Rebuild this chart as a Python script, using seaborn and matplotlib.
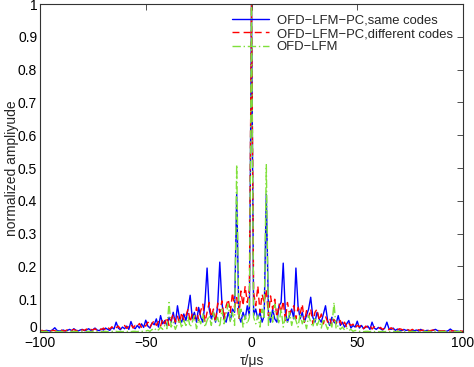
import numpy as np
import pandas as pd
import matplotlib
matplotlib.use("Agg")
import matplotlib.pyplot as plt
import matplotlib.transforms as mtransforms
import seaborn as sns

# delay axis (microseconds), 1 us step
tau = list(range(-100, 101))

same_codes = [
    0.002,0.004,0.003,0.005,0.004,0.003,0.007,0.013,0.005,0.003,
    0.004,0.006,0.003,0.005,0.008,0.004,0.010,0.005,0.003,0.006,
    0.008,0.004,0.006,0.010,0.005,0.007,0.012,0.006,0.004,0.009,
    0.006,0.012,0.008,0.005,0.014,0.009,0.030,0.012,0.007,0.015,
    0.010,0.018,0.008,0.032,0.015,0.010,0.020,0.012,0.025,0.014,
    0.036,0.018,0.012,0.028,0.022,0.040,0.015,0.050,0.025,0.035,
    0.020,0.045,0.030,0.060,0.025,0.080,0.040,0.030,0.055,0.035,
    0.070,0.112,0.040,0.060,0.030,0.075,0.045,0.030,0.090,0.195,
    0.070,0.040,0.060,0.030,0.080,0.213,0.090,0.040,0.030,0.060,
    0.035,0.070,0.060,0.420,0.050,0.030,0.060,0.040,0.080,0.050,
    1.000,
    0.050,0.070,0.040,0.060,0.030,0.050,0.420,0.060,0.030,0.070,
    0.040,0.030,0.080,0.090,0.210,0.060,0.030,0.050,0.070,0.040,
    0.195,0.080,0.040,0.060,0.030,0.050,0.070,0.106,0.045,0.030,
    0.060,0.040,0.030,0.055,0.080,0.035,0.020,0.045,0.030,0.025,
    0.050,0.020,0.030,0.015,0.025,0.035,0.012,0.020,0.015,0.033,
    0.012,0.020,0.010,0.015,0.018,0.008,0.030,0.012,0.008,0.014,
    0.010,0.006,0.012,0.030,0.010,0.008,0.012,0.005,0.009,0.006,
    0.004,0.008,0.005,0.006,0.003,0.005,0.004,0.006,0.003,0.008,
    0.004,0.003,0.005,0.004,0.003,0.006,0.008,0.004,0.003,0.002,
    0.003,0.002,0.004,0.009,0.004,0.002,0.003,0.002,0.001,0.002,
]

different_codes = [
    0.003,0.005,0.002,0.004,0.006,0.003,0.005,0.004,0.002,0.005,
    0.006,0.003,0.004,0.007,0.003,0.005,0.008,0.004,0.006,0.003,
    0.007,0.005,0.009,0.004,0.008,0.006,0.010,0.005,0.011,0.007,
    0.012,0.006,0.014,0.009,0.016,0.008,0.013,0.018,0.010,0.015,
    0.020,0.011,0.018,0.024,0.012,0.020,0.016,0.026,0.014,0.022,
    0.018,0.030,0.015,0.026,0.035,0.020,0.032,0.018,0.040,0.025,
    0.045,0.020,0.038,0.055,0.030,0.048,0.025,0.060,0.035,0.050,
    0.070,0.030,0.058,0.040,0.075,0.035,0.065,0.085,0.030,0.060,
    0.090,0.045,0.070,0.030,0.088,0.060,0.095,0.040,0.080,0.100,
    0.060,0.120,0.075,0.105,0.040,0.125,0.080,0.140,0.090,0.130,
    1.000,
    0.120,0.080,0.140,0.060,0.115,0.090,0.130,0.050,0.110,0.070,
    0.100,0.045,0.085,0.060,0.095,0.035,0.090,0.055,0.070,0.080,
    0.040,0.075,0.055,0.085,0.030,0.065,0.045,0.070,0.025,0.060,
    0.070,0.035,0.055,0.025,0.048,0.030,0.042,0.020,0.038,0.030,
    0.022,0.035,0.018,0.030,0.015,0.026,0.020,0.024,0.012,0.020,
    0.016,0.022,0.010,0.018,0.014,0.020,0.009,0.016,0.012,0.010,
    0.014,0.008,0.012,0.010,0.007,0.013,0.009,0.011,0.006,0.010,
    0.008,0.005,0.009,0.007,0.004,0.008,0.006,0.005,0.007,0.004,
    0.006,0.004,0.007,0.003,0.005,0.006,0.003,0.005,0.004,0.003,
    0.004,0.003,0.005,0.002,0.004,0.003,0.002,0.004,0.003,0.002,
]

ofd_lfm = [
    0.001,0.002,0.001,0.002,0.001,0.001,0.002,0.001,0.002,0.001,
    0.002,0.001,0.002,0.001,0.001,0.002,0.001,0.002,0.001,0.001,
    0.002,0.001,0.001,0.002,0.001,0.002,0.001,0.001,0.002,0.001,
    0.001,0.002,0.001,0.002,0.002,0.001,0.002,0.001,0.002,0.001,
    0.002,0.001,0.003,0.001,0.002,0.002,0.001,0.003,0.002,0.002,
    0.003,0.005,0.002,0.008,0.004,0.012,0.006,0.015,0.008,0.020,
    0.010,0.090,0.015,0.030,0.008,0.025,0.040,0.012,0.035,0.020,
    0.045,0.015,0.030,0.050,0.010,0.040,0.025,0.055,0.015,0.035,
    0.050,0.020,0.060,0.030,0.045,0.015,0.070,0.025,0.055,0.085,
    0.030,0.060,0.020,0.510,0.040,0.070,0.015,0.050,0.025,0.045,
    1.000,
    0.045,0.025,0.050,0.015,0.070,0.040,0.510,0.020,0.060,0.030,
    0.085,0.055,0.025,0.070,0.015,0.045,0.030,0.060,0.020,0.050,
    0.035,0.015,0.055,0.025,0.040,0.010,0.050,0.030,0.015,0.045,
    0.020,0.035,0.012,0.040,0.025,0.008,0.030,0.015,0.090,0.010,
    0.020,0.008,0.015,0.006,0.012,0.004,0.008,0.002,0.005,0.003,
    0.002,0.003,0.001,0.002,0.002,0.001,0.003,0.001,0.002,0.001,
    0.001,0.002,0.001,0.002,0.001,0.001,0.002,0.001,0.002,0.001,
    0.002,0.001,0.001,0.002,0.001,0.002,0.001,0.001,0.002,0.001,
    0.001,0.002,0.001,0.002,0.001,0.001,0.002,0.001,0.002,0.001,
    0.002,0.001,0.002,0.001,0.001,0.002,0.001,0.002,0.001,0.001,
]

series_labels = ["OFD\u2212LFM\u2212PC,same codes",
                 "OFD\u2212LFM\u2212PC,different codes",
                 "OFD\u2212LFM"]
x_ticks = [-100, -50, 0, 50, 100]
x_tick_labels = ["\u2212100", "\u221250", "0", "50", "100"]
y_ticks = [0, 0.1, 0.2, 0.3, 0.4, 0.5, 0.6, 0.7, 0.8, 0.9, 1]
y_tick_labels = ["0", "0.1", "0.2", "0.3", "0.4", "0.5", "0.6", "0.7", "0.8", "0.9", "1"]

sns.set_theme(style="white")
plt.rcParams["font.family"] = ["Liberation Sans", "DejaVu Sans"]
plt.rcParams["xtick.direction"] = "in"
plt.rcParams["ytick.direction"] = "in"

fig = plt.figure(figsize=(4.74, 3.67), dpi=100)
ax = fig.add_axes([40/474, 1 - 332/367, (463-40)/474, (332-4)/367])

df = pd.DataFrame({"tau": tau, "same": same_codes, "diff": different_codes, "lfm": ofd_lfm})

sns.lineplot(data=df, x="tau", y="same", ax=ax, color="#0000ff", lw=1.0,
             label=series_labels[0])
sns.lineplot(data=df, x="tau", y="diff", ax=ax, color="#ff0000", lw=1.0,
             linestyle=(0, (5, 3)), label=series_labels[1])
sns.lineplot(data=df, x="tau", y="lfm", ax=ax, color="#7fe03a", lw=1.0,
             linestyle=(0, (6, 2, 1, 2)), label=series_labels[2])

ax.set_xlim(-100, 100)
ax.set_ylim(0, 1)
ax.set_xticks(x_ticks)
ax.set_xticklabels(x_tick_labels)
ax.set_yticks(y_ticks)
ax.set_yticklabels(y_tick_labels)
ax.tick_params(axis="both", labelsize=10, length=4, width=0.6, color="#333333",
               top=True, right=True, labelcolor="black")
ax.tick_params(axis="x", pad=3)
ax.tick_params(axis="y", pad=2)
for s in ax.spines.values():
    s.set_color("#333333")
    s.set_linewidth(0.8)
ax.set_xlabel("\u03c4/\u03bcs", fontsize=10, labelpad=3)
ax.set_ylabel("normalized ampliyude", fontsize=10, labelpad=-1)

# nudge the y "0" label up a little so it does not collide with "-100"
zero_lbl = ax.get_yticklabels()[0]
zero_lbl.set_transform(zero_lbl.get_transform() +
                       mtransforms.ScaledTranslation(0, 4/72, fig.dpi_scale_trans))

leg = ax.legend(loc="upper right", frameon=False, fontsize=9.4, handlelength=2.9,
                handletextpad=0.55, labelspacing=0.1, borderaxespad=0.4,
                bbox_to_anchor=(1.0, 1.0))

fig.savefig("out.png", dpi=100)
